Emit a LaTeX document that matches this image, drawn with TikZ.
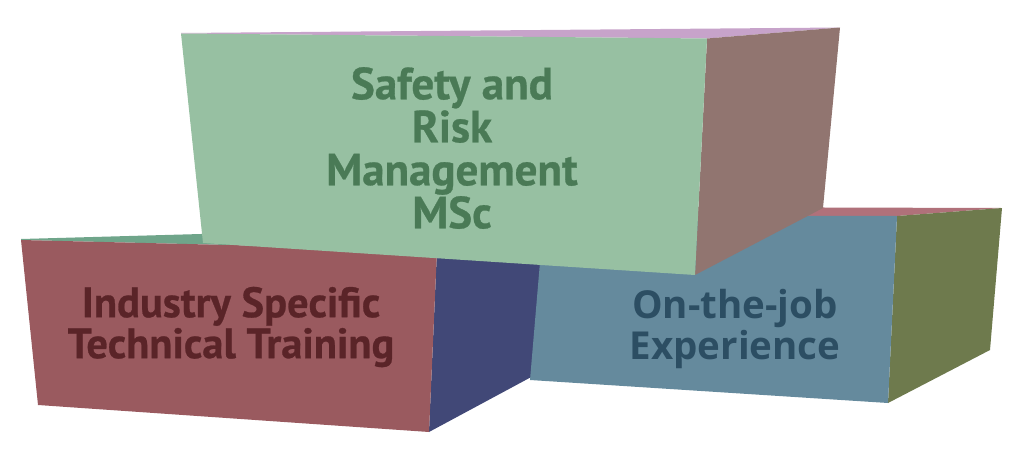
\documentclass[tikz,border=0pt]{standalone}
\usepackage{fontspec}
\setmainfont[BoldFeatures={FakeBold=0.6}]{PT Sans}
\newfontfamily\jobfont{Open Sans}

\definecolor{redfront}{HTML}{9A5A5F}
\definecolor{redtop}{HTML}{6FA58A}
\definecolor{redside}{HTML}{414877}
\definecolor{redtext}{HTML}{5A2428}
\definecolor{bluefront}{HTML}{658A9D}
\definecolor{bluetop}{HTML}{B0717A}
\definecolor{blueside}{HTML}{6E7A4D}
\definecolor{bluetext}{HTML}{2C4E63}
\definecolor{greenfront}{HTML}{97C0A2}
\definecolor{greentop}{HTML}{C7A3CA}
\definecolor{greenside}{HTML}{917570}
\definecolor{greentext}{HTML}{4A7A56}

\tikzset{
  blocktext/.style={align=center, font=\bfseries\fontsize{45}{43}\selectfont, inner sep=0pt}
}

\begin{document}
\begin{tikzpicture}[x=1pt, y=-1pt]
        \useasboundingbox (0,0) rectangle (1024,455);

        % left block
        \fill[redtop] (21,240) -- (437,250) -- (560,224) -- (21,239) -- cycle;
        \fill[redside] (437,250) -- (560,224) -- (548,368) -- (429,432) -- cycle;
        \fill[redfront] (21,240) -- (437,250) -- (429,432) -- (38,405) -- cycle;

        % right block
        \fill[bluetop] (544,215) -- (649,207) -- (1002,208) -- (897,216) -- cycle;
        \fill[blueside] (897,216) -- (1002,208) -- (990,350) -- (888,403) -- cycle;
        \fill[bluefront] (544,215) -- (897,216) -- (888,403) -- (530,380) -- cycle;

        % top block
        \fill[greentop] (181,33) -- (840,27.5) -- (707,38.5) -- (181,33.5) -- cycle;
        \fill[greenside] (707,38.5) -- (840,27.5) -- (823,208) -- (695,275) -- cycle;
        \fill[greenfront] (181,33.5) -- (707,38.5) -- (695,275) -- (203,243) -- cycle;

        \node[blocktext, text=greentext] (msc) at (452,148) {Safety and\\Risk\\Management\\MSc};
        \node[blocktext, text=redtext, font=\bfseries\fontsize{42.5}{41}\selectfont] (training) at (231,327) {Industry Specific\\Technical Training};
        \node[blocktext, text=bluetext, font=\jobfont\bfseries\fontsize{38.5}{41}\selectfont] (job) at (735,329) {On-the-job\\Experience};
    \end{tikzpicture}
\end{document}
